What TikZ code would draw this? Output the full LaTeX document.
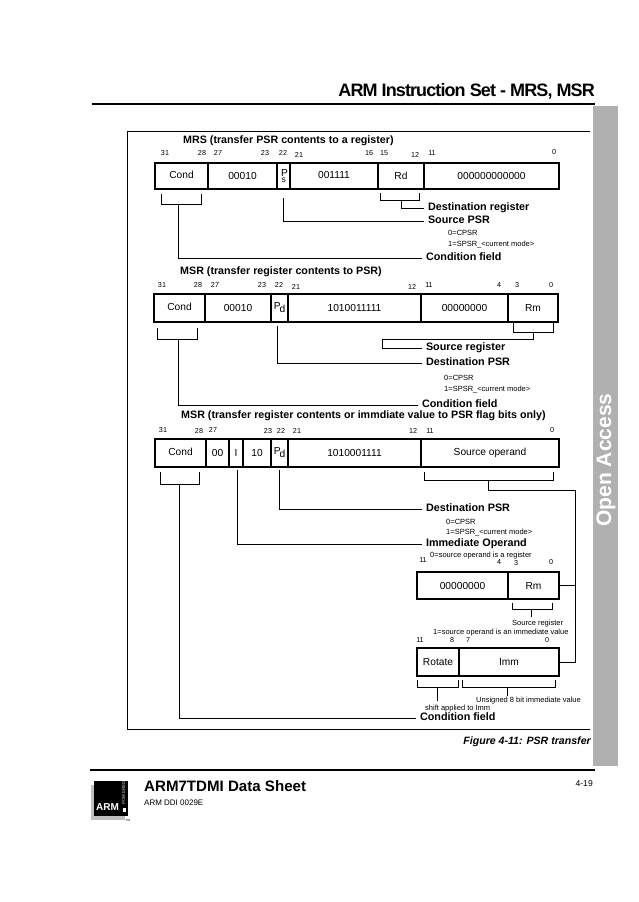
\documentclass[tikz,border=0pt]{standalone}
\usepackage{fontspec}
\setmainfont{Liberation Sans}
\newfontfamily\titlefont[LetterSpace=-5]{Liberation Sans}
\definecolor{sidegray}{HTML}{B0B0B0}
\tikzset{
    fieldbox/.style={draw, line width=2pt, anchor=north west, inner sep=0pt, outer sep=0pt, minimum height=28pt, font=\fontsize{10.2}{11}\selectfont},
    bitno/.style={inner sep=0pt, font=\fontsize{7.2}{8}\selectfont},
    fieldlabel/.style={anchor=west, inner sep=0pt, outer xsep=4pt, text height=7.5pt, text depth=2pt, font=\fontsize{10.8}{11}\selectfont\bfseries},
    heading/.style={anchor=west, inner sep=0pt, text height=7.5pt, text depth=2pt, font=\fontsize{10.7}{11}\selectfont\bfseries},
    note/.style={anchor=west, inner sep=0pt, text height=5.5pt, text depth=1.5pt, font=\fontsize{7.5}{9}\selectfont},
    conn/.style={line width=0.9pt}
}
\begin{document}
\begin{tikzpicture}[x=1pt, y=-1pt]
    \fill[white] (0,0) rectangle (638,902);

    % Page furniture
    \fill[sidegray] (593,106) rectangle (618,766);
    \draw[line width=1.4pt] (92,104) -- (595,104);
    \draw[line width=1.4pt] (90,770) -- (595,770);
    \node[anchor=east, inner sep=0pt, font=\titlefont\fontsize{18}{20}\selectfont\bfseries] (pagetitle) at (595,91) {ARM Instruction Set - MRS, MSR};
    \node[rotate=90, inner sep=0pt, text=white, font=\fontsize{21}{23}\selectfont\bfseries] (sidetitle) at (606,460) {Open Access};
    \node[anchor=east, inner sep=0pt, font=\fontsize{10.6}{11}\selectfont\bfseries\itshape] (figcaption) at (591,742) {Figure 4-11: PSR transfer};

    % Footer
    \fill[gray!50] (91,785) rectangle (125,820);
    \fill[black] (94,781) rectangle (128,816);
    \fill[white] (122.5,808) rectangle (126,811.5);
    \node[anchor=west, inner sep=0pt, text=white, font=\fontsize{10}{11}\selectfont\bfseries] (logoarm) at (96,807) {ARM};
    \node[rotate=90, inner sep=0pt, text=gray!40, font=\fontsize{4.5}{5}\selectfont] (logopow) at (123.5,793) {POWERED};
    \node[inner sep=0pt, font=\fontsize{3}{4}\selectfont] (logotm) at (128,820) {TM};
    \node[anchor=west, inner sep=0pt, font=\fontsize{15.1}{16}\selectfont\bfseries] (docname) at (144,786) {ARM7TDMI Data Sheet};
    \node[anchor=west, inner sep=0pt, font=\fontsize{8}{9}\selectfont] (docnum) at (144,803) {ARM DDI 0029E};
    \node[anchor=east, inner sep=0pt, font=\fontsize{8.6}{9}\selectfont] (pageno) at (593,784) {4-19};

    % Frame
    \draw[line width=0.8pt] (590,131) -- (127,131) -- (127,729) -- (590,729);

    % MRS
    \node[heading] (headA) at (183,141) {MRS (transfer PSR contents to a register)};
    \foreach \x/\y/\b in {165/153/31, 202/153/28, 218/153/27, 265/153/23, 283/153/22, 299/155/21, 369/153/16, 384/153/15, 415/155/12, 432/153/11, 554/152/0}
        \node[bitno] (bitA\b) at (\x,\y) {\b};
    \node[fieldbox, minimum height=26pt, minimum width=53pt] (condA) at (155,163) {\raisebox{2pt}{Cond}};
    \node[fieldbox, minimum height=26pt, minimum width=69pt] (opA) at (208,163) {00010};
    \node[fieldbox, minimum height=26pt, minimum width=13pt] (psA) at (277,163) {P\kern-6.5pt\raisebox{-6.5pt}{\fontsize{8.5}{9}\selectfont s}};
    \node[fieldbox, minimum height=26pt, minimum width=88pt] (maskA) at (290,163) {\raisebox{2pt}{001111}};
    \node[fieldbox, minimum height=26pt, minimum width=46pt] (rdA) at (378,163) {Rd};
    \node[fieldbox, minimum height=26pt, minimum width=135pt] (zeroA) at (424,163) {000000000000};

    \node[fieldlabel] (lblRdA) at (424,208) {Destination register};
    \node[fieldlabel] (lblPsrA) at (424,221) {Source PSR};
    \node[note] (noteA) at (448,233) {0=CPSR};
    \node[note] (noteAb) at (448,244) {1=SPSR\_<current mode>};
    \node[fieldlabel] (lblCondA) at (422,258) {Condition field};

    \coordinate (brCondAl) at (161,194);
    \coordinate (brCondAr) at (201,194);
    \coordinate (stemCondA) at (178,204);
    \coordinate (brRdAl) at (380,193);
    \coordinate (brRdAr) at (419,193);
    \coordinate (stemRdA) at (401,200);
    \coordinate (stemPsA) at (283,198);
    \draw[conn] (brCondAl) -- ++(0,10) -| (brCondAr);
    \draw[conn] (stemCondA) |- (lblCondA.west);
    \draw[conn] (brRdAl) -- ++(0,7) -| (brRdAr);
    \draw[conn] (stemRdA) |- (lblRdA.west);
    \draw[conn] (stemPsA) |- (lblPsrA.west);

    % MSR, register
    \node[heading] (headB) at (180,272) {MSR (transfer register contents to PSR)};
    \foreach \x/\y/\b in {162/285/31, 198/285/28, 215/285/27, 262/285/23, 279/285/22, 296/287/21, 412/287/12, 429/285/11, 499/285/4, 517/285/3, 551/285/0}
        \node[bitno] (bitB\b) at (\x,\y) {\b};
    \node[fieldbox, minimum width=51pt] (condB) at (154,294) {\raisebox{2pt}{Cond}};
    \node[fieldbox, minimum width=66pt] (opB) at (205,294) {00010};
    \node[fieldbox, minimum width=17pt] (pdB) at (271,294) {P\kern-1pt\raisebox{-3pt}{d}};
    \node[fieldbox, minimum width=133pt] (maskB) at (288,294) {1010011111};
    \node[fieldbox, minimum width=87pt] (zeroB) at (421,294) {00000000};
    \node[fieldbox, minimum width=50pt] (rmB) at (508,294) {Rm};

    \node[fieldlabel] (lblRmB) at (422,348) {Source register};
    \node[fieldlabel] (lblPsrB) at (422,363) {Destination PSR};
    \node[note] (noteB) at (444,378) {0=CPSR};
    \node[note] (noteBb) at (444,389) {1=SPSR\_<current mode>};
    \node[fieldlabel] (lblCondB) at (418,405) {Condition field};

    \coordinate (brCondBl) at (157,328);
    \coordinate (brCondBr) at (197,328);
    \coordinate (stemCondB) at (178,339);
    \coordinate (brRmBl) at (513,323);
    \coordinate (brRmBr) at (553,323);
    \coordinate (stemRmB) at (533,332);
    \coordinate (elbowRmB) at (382,339);
    \coordinate (stemPdB) at (277,326);
    \draw[conn] (brCondBl) -- ++(0,11) -| (brCondBr);
    \draw[conn] (stemCondB) |- (lblCondB.west);
    \draw[conn] (brRmBl) -- ++(0,9) -| (brRmBr);
    \draw[conn] (stemRmB) |- (elbowRmB) |- (lblRmB.west);
    \draw[conn] (stemPdB) |- (lblPsrB.west);

    % MSR, flag bits
    \node[heading] (headC) at (181,416) {MSR (transfer register contents or immdiate value to PSR flag bits only)};
    \foreach \x/\y/\b in {163/430/31, 199/431/28, 213/430/27, 268/431/23, 281/431/22, 297/431/21, 413/431/12, 430/431/11, 552/430/0}
        \node[bitno] (bitC\b) at (\x,\y) {\b};
    \node[fieldbox, minimum width=51pt] (condC) at (155,439) {\raisebox{2pt}{Cond}};
    \node[fieldbox, minimum width=23pt] (opC) at (206,439) {00};
    \node[fieldbox, minimum width=14pt] (immC) at (229,439) {I};
    \node[fieldbox, minimum width=28pt] (tenC) at (243,439) {10};
    \node[fieldbox, minimum width=17pt] (pdC) at (271,439) {P\kern-1pt\raisebox{-3pt}{d}};
    \node[fieldbox, minimum width=133pt] (maskC) at (288,439) {1010001111};
    \node[fieldbox, minimum width=138pt] (srcC) at (421,439) {Source operand};

    \node[fieldlabel] (lblPsrC) at (422,509) {Destination PSR};
    \node[note] (noteC) at (446,522) {0=CPSR};
    \node[note] (noteCb) at (446,532) {1=SPSR\_<current mode>};
    \node[fieldlabel] (lblImmC) at (422,544) {Immediate Operand};
    \node[note] (noteCc) at (430,555) {0=source operand is a register};
    \node[fieldlabel] (lblCondC) at (416,718) {Condition field};

    \coordinate (brCondCl) at (160,472);
    \coordinate (brCondCr) at (199,472);
    \coordinate (stemCondC) at (179,484);
    \coordinate (stemImmC) at (237,470);
    \coordinate (stemPdC) at (279,470);
    \coordinate (brSrcCl) at (424,472);
    \coordinate (brSrcCr) at (553,472);
    \coordinate (stemSrcC) at (488,480);
    \coordinate (busC) at (575,490);
    \draw[conn] (brCondCl) -- ++(0,12) -| (brCondCr);
    \draw[conn] (stemCondC) |- (lblCondC.west);
    \draw[conn] (stemImmC) |- (lblImmC.west);
    \draw[conn] (stemPdC) |- (lblPsrC.west);
    \draw[conn] (brSrcCl) -- ++(0,8) -| (brSrcCr);

    % Operand, register
    \foreach \x/\y/\b in {423/560/11, 499/562/4, 516/563/3, 551/562/0}
        \node[bitno] (bitD\b) at (\x,\y) {\b};
    \node[fieldbox, minimum height=27pt, minimum width=91pt] (zeroD) at (417,572) {00000000};
    \node[fieldbox, minimum height=27pt, minimum width=51pt] (rmD) at (508,572) {Rm};
    \node[note] (noteD) at (512,623) {Source register};
    \node[note] (noteDb) at (433,632) {1=source operand is an immediate value};

    \coordinate (brRmDl) at (512,603);
    \coordinate (brRmDr) at (552,603);
    \coordinate (stemRmD) at (531,609);
    \coordinate (endRmD) at (531,617);
    \draw[conn] (brRmDl) -- ++(0,6) -| (brRmDr);
    \draw[conn] (stemRmD) -- (endRmD);

    % Operand, immediate
    \foreach \x/\y/\b in {420/640/11, 452/640/8, 468/640/7, 547/640/0}
        \node[bitno] (bitE\b) at (\x,\y) {\b};
    \node[fieldbox, minimum width=42pt] (rotE) at (417,648) {Rotate};
    \node[fieldbox, minimum width=100pt] (immE) at (459,648) {\raisebox{1pt}{Imm}};
    \node[note] (noteE) at (476,700) {Unsigned 8 bit immediate value};
    \node[note] (noteEb) at (425,708) {shift applied to Imm};

    \coordinate (brRotEl) at (417,680);
    \coordinate (brRotEr) at (458,680);
    \coordinate (stemRotE) at (437,687);
    \coordinate (endRotE) at (437,701);
    \coordinate (brImmEl) at (462,680);
    \coordinate (brImmEr) at (555,680);
    \coordinate (stemImmE) at (507,687);
    \coordinate (endImmE) at (507,696);
    \draw[conn] (brRotEl) -- ++(0,7) -| (brRotEr);
    \draw[conn] (stemRotE) -- (endRotE);
    \draw[conn] (brImmEl) -- ++(0,7) -| (brImmEr);
    \draw[conn] (stemImmE) -- (endImmE);

    % Operand bus
    \draw[conn] (stemSrcC) |- (busC) |- (immE.east);
    \draw[conn] (busC |- rmD.east) -- (rmD.east);
\end{tikzpicture}
\end{document}
